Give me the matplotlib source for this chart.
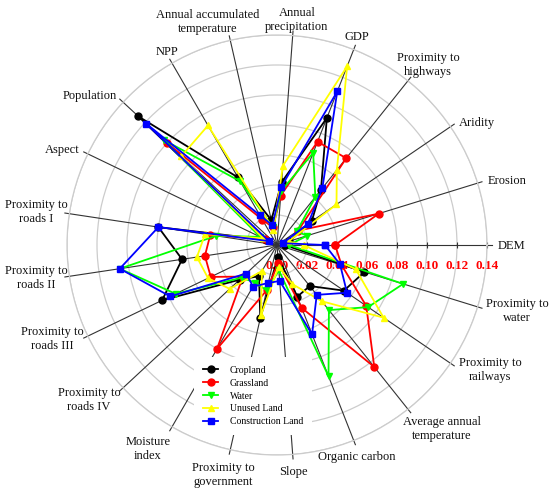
import numpy as np
import matplotlib
matplotlib.use('Agg')
import matplotlib.pyplot as plt
from matplotlib.lines import Line2D

plt.rcParams['font.family'] = 'serif'
plt.rcParams['font.serif'] = ['Liberation Serif', 'DejaVu Serif']

# ------------------------------------------------------------
# data (axes start at DEM and go counter-clockwise)
# ------------------------------------------------------------
FACTORS = ['DEM', 'Erosion', 'Aridity', 'Proximity to\nhighways', 'GDP',
           'Annual\nprecipitation', 'Annual accumulated\ntemperature', 'NPP',
           'Population', 'Aspect', 'Proximity to\nroads I', 'Proximity to\nroads II',
           'Proximity to\nroads III', 'Proximity to\nroads IV', 'Moisture\nindex',
           'Proximity to\ngovernment', 'Slope', 'Organic carbon',
           'Average annual\ntemperature', 'Proximity to\nrailways', 'Proximity to\nwater']

cropland = [0.005, 0.0087, 0.028, 0.047, 0.091, 0.042, 0.017, 0.052, 0.126, 0.008,
            0.080, 0.064, 0.085, 0.034, 0.024, 0.050, 0.008, 0.037, 0.035, 0.054, 0.061]
grassland = [0.0387, 0.071, 0.017, 0.074, 0.074, 0.033, 0.012, 0.0196, 0.100, 0.009,
             0.045, 0.0486, 0.049, 0.031, 0.080, 0.031, 0.012, 0.045, 0.104, 0.072, 0.045]
water = [0.008, 0.021, 0.016, 0.041, 0.066, 0.036, 0.012, 0.049, 0.103, 0.0125,
         0.041, 0.106, 0.075, 0.032, 0.029, 0.031, 0.017, 0.094, 0.0555, 0.0735, 0.088]
unused = [0.0177, 0.008, 0.048, 0.064, 0.128, 0.053, 0.0105, 0.092, 0.087, 0.010,
          0.0485, 0.054, 0.051, 0.043, 0.020, 0.048, 0.0145, 0.028, 0.048, 0.086, 0.055]
construction = [0.032, 0.004, 0.025, 0.0485, 0.110, 0.039, 0.0135, 0.023, 0.119, 0.006,
                0.080, 0.106, 0.079, 0.028, 0.032, 0.026, 0.024, 0.064, 0.0425, 0.0565, 0.044]

SERIES = ['Cropland', 'Grassland', 'Water', 'Unused Land', 'Construction Land']
R_TICKS = [0.00, 0.02, 0.04, 0.06, 0.08, 0.10, 0.12, 0.14]

# label centres in pixels of the 550x494 picture
LABEL_PX = [(511, 246), (507, 181), (477, 123), (428, 65), (357, 37), (297, 20),
            (208, 22), (167, 52), (90, 96), (62, 150), (36, 212), (36, 278),
            (52, 339), (89, 400), (148, 449), (223, 475), (293, 472), (357, 457),
            (442, 429), (490, 370), (517, 311)]

STYLES = [('black', 'o'), ('#ff0000', 'o'), ('#00ff00', 'v'), ('#ffff00', '^'), ('#0000ff', 's')]
W, H = 550, 494
CX, CY, RAD = 277, 245, 210      # centre and radius of 0.14 circle, pixels

fig = plt.figure(figsize=(W / 100, H / 100), dpi=100)
fig.patch.set_facecolor('white')
ax = fig.add_axes([(CX - RAD) / W, 1 - (CY + RAD) / H, 2 * RAD / W, 2 * RAD / H],
                  projection='polar')
ax.set_facecolor('white')

n = len(FACTORS)
theta = np.linspace(0, 2 * np.pi, n, endpoint=False)

ax.set_ylim(0, R_TICKS[-1])
ax.set_yticks(R_TICKS[1:])
ax.set_yticklabels([])
ax.set_xticks([])
ax.yaxis.grid(True, color='#cccccc', linewidth=0.9)
ax.spines['polar'].set_color('#cccccc')
ax.spines['polar'].set_linewidth(0.9)

# spokes
for th in theta:
    ax.plot([th, th], [0, 0.143], color='#333333', linewidth=0.8, clip_on=False, zorder=2)

# ticks and red radial labels along DEM axis
ax.plot(np.zeros(len(R_TICKS) - 1), R_TICKS[1:], ls='none', marker='|', ms=5,
        mew=0.8, color='#333333', clip_on=False, zorder=2)
for r in R_TICKS:
    ax.annotate(f'{r:.2f}', xy=(0, r), xytext=(0, -15), textcoords='offset points',
                ha='center', va='center', color='#ff0000', fontweight='bold',
                fontsize=9.5, zorder=1.5, annotation_clip=False)

# data lines
handles = []
for vals, name, (col, mk) in zip([cropland, grassland, water, unused, construction],
                                 SERIES, STYLES):
    v = np.append(vals, vals[0])
    t = np.append(theta, theta[0])
    ax.plot(t, v, color=col, linewidth=1.3, marker=mk, markersize=5,
            markeredgecolor=col, zorder=3, clip_on=False)
    handles.append(Line2D([], [], color=col, marker=mk, markersize=5, linewidth=1.3))

for label, (x, y) in zip(FACTORS, LABEL_PX):
    fig.text(x / W, 1 - y / H, label, ha='center', va='center', fontsize=9,
             multialignment='center', linespacing=1.15, color='#111111')

leg = fig.legend(handles, SERIES, loc='center', bbox_to_anchor=(253 / W, 1 - 396 / H),
                 frameon=True, facecolor='white', edgecolor='none', fancybox=False,
                 framealpha=1, fontsize=7, handlelength=1.6, handletextpad=1.2,
                 labelspacing=0.4, borderpad=0.9)

fig.savefig('out.png', dpi=100, facecolor='white')
